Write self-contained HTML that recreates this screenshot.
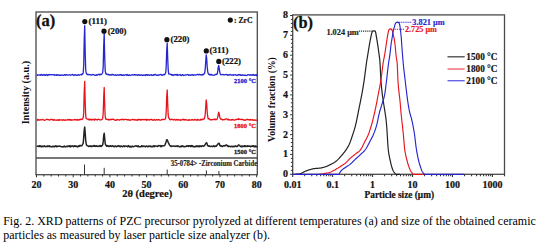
<!DOCTYPE html>
<html><head><meta charset="utf-8"><style>
html,body{margin:0;padding:0;background:#fff;width:541px;height:248px;overflow:hidden;position:relative;}
svg{position:absolute;left:0;top:0;}
.cap{position:absolute;left:3.5px;font-family:'Liberation Serif',serif;font-size:12px;color:#111;white-space:nowrap;}
</style></head><body>
<svg width="541" height="248" viewBox="0 0 541 248">
<rect x="36.0" y="12.0" width="221.3" height="162.7" fill="none" stroke="#4a4a4a" stroke-width="1.3"/>
<line x1="36.0" y1="158.0" x2="257.3" y2="158.0" stroke="#4a4a4a" stroke-width="1.3"/>
<line x1="36.50" y1="174.7" x2="36.50" y2="177.29999999999998" stroke="#333" stroke-width="1"/>
<line x1="43.84" y1="174.7" x2="43.84" y2="176.5" stroke="#333" stroke-width="1"/>
<line x1="51.18" y1="174.7" x2="51.18" y2="176.5" stroke="#333" stroke-width="1"/>
<line x1="58.52" y1="174.7" x2="58.52" y2="176.5" stroke="#333" stroke-width="1"/>
<line x1="65.86" y1="174.7" x2="65.86" y2="176.5" stroke="#333" stroke-width="1"/>
<line x1="73.20" y1="174.7" x2="73.20" y2="177.29999999999998" stroke="#333" stroke-width="1"/>
<line x1="80.54" y1="174.7" x2="80.54" y2="176.5" stroke="#333" stroke-width="1"/>
<line x1="87.88" y1="174.7" x2="87.88" y2="176.5" stroke="#333" stroke-width="1"/>
<line x1="95.22" y1="174.7" x2="95.22" y2="176.5" stroke="#333" stroke-width="1"/>
<line x1="102.56" y1="174.7" x2="102.56" y2="176.5" stroke="#333" stroke-width="1"/>
<line x1="109.90" y1="174.7" x2="109.90" y2="177.29999999999998" stroke="#333" stroke-width="1"/>
<line x1="117.24" y1="174.7" x2="117.24" y2="176.5" stroke="#333" stroke-width="1"/>
<line x1="124.58" y1="174.7" x2="124.58" y2="176.5" stroke="#333" stroke-width="1"/>
<line x1="131.92" y1="174.7" x2="131.92" y2="176.5" stroke="#333" stroke-width="1"/>
<line x1="139.26" y1="174.7" x2="139.26" y2="176.5" stroke="#333" stroke-width="1"/>
<line x1="146.60" y1="174.7" x2="146.60" y2="177.29999999999998" stroke="#333" stroke-width="1"/>
<line x1="153.94" y1="174.7" x2="153.94" y2="176.5" stroke="#333" stroke-width="1"/>
<line x1="161.28" y1="174.7" x2="161.28" y2="176.5" stroke="#333" stroke-width="1"/>
<line x1="168.62" y1="174.7" x2="168.62" y2="176.5" stroke="#333" stroke-width="1"/>
<line x1="175.96" y1="174.7" x2="175.96" y2="176.5" stroke="#333" stroke-width="1"/>
<line x1="183.30" y1="174.7" x2="183.30" y2="177.29999999999998" stroke="#333" stroke-width="1"/>
<line x1="190.64" y1="174.7" x2="190.64" y2="176.5" stroke="#333" stroke-width="1"/>
<line x1="197.98" y1="174.7" x2="197.98" y2="176.5" stroke="#333" stroke-width="1"/>
<line x1="205.32" y1="174.7" x2="205.32" y2="176.5" stroke="#333" stroke-width="1"/>
<line x1="212.66" y1="174.7" x2="212.66" y2="176.5" stroke="#333" stroke-width="1"/>
<line x1="220.00" y1="174.7" x2="220.00" y2="177.29999999999998" stroke="#333" stroke-width="1"/>
<line x1="227.34" y1="174.7" x2="227.34" y2="176.5" stroke="#333" stroke-width="1"/>
<line x1="234.68" y1="174.7" x2="234.68" y2="176.5" stroke="#333" stroke-width="1"/>
<line x1="242.02" y1="174.7" x2="242.02" y2="176.5" stroke="#333" stroke-width="1"/>
<line x1="249.36" y1="174.7" x2="249.36" y2="176.5" stroke="#333" stroke-width="1"/>
<line x1="256.70" y1="174.7" x2="256.70" y2="177.29999999999998" stroke="#333" stroke-width="1"/>
<line x1="84.50" y1="164.5" x2="84.50" y2="174.7" stroke="#333" stroke-width="1"/>
<line x1="104.20" y1="167.8" x2="104.20" y2="174.7" stroke="#333" stroke-width="1"/>
<line x1="167.20" y1="169.5" x2="167.20" y2="174.7" stroke="#333" stroke-width="1"/>
<line x1="206.40" y1="170.4" x2="206.40" y2="174.7" stroke="#333" stroke-width="1"/>
<line x1="218.90" y1="171.0" x2="218.90" y2="174.7" stroke="#333" stroke-width="1"/>
<polyline points="36.70,74.62 37.20,75.30 37.70,75.31 38.20,74.79 38.70,74.96 39.20,74.94 39.70,75.14 40.20,75.31 40.70,74.63 41.20,74.46 41.70,75.26 42.20,74.97 42.70,75.26 43.20,74.53 43.70,74.87 44.20,75.20 44.70,74.75 45.20,75.41 45.70,75.47 46.20,74.59 46.70,74.45 47.20,74.96 47.70,75.44 48.20,74.94 48.70,74.70 49.20,74.87 49.70,74.50 50.20,74.64 50.70,74.88 51.20,74.97 51.70,74.72 52.20,74.68 52.70,74.66 53.20,74.90 53.70,74.76 54.20,74.47 54.70,75.26 55.20,75.09 55.70,75.15 56.20,74.70 56.70,75.45 57.20,75.43 57.70,74.67 58.20,74.77 58.70,75.18 59.20,75.23 59.70,75.47 60.20,74.98 60.70,75.32 61.20,75.21 61.70,74.82 62.20,75.05 62.70,75.39 63.20,75.40 63.70,75.05 64.20,75.09 64.70,74.53 65.20,74.65 65.70,75.24 66.20,74.93 66.70,74.64 67.20,74.98 67.70,75.19 68.20,75.19 68.70,74.88 69.20,74.90 69.70,74.97 70.20,75.26 70.70,75.04 71.20,74.87 71.70,74.94 72.20,74.48 72.70,74.42 73.20,75.09 73.70,75.47 74.20,75.12 74.70,74.86 75.20,74.59 75.70,74.89 76.20,75.41 76.70,75.27 77.20,75.00 77.70,75.28 78.20,74.67 78.70,74.84 79.20,75.29 79.70,74.95 80.20,74.74 80.70,74.46 81.20,74.61 81.70,74.93 82.20,73.79 82.70,74.02 83.20,72.90 83.70,65.70 84.20,40.55 84.70,25.65 85.20,52.43 85.70,69.77 86.20,73.20 86.70,73.54 87.20,74.64 87.70,74.64 88.20,74.35 88.70,74.67 89.20,74.74 89.70,74.66 90.20,74.65 90.70,74.87 91.20,75.00 91.70,75.02 92.20,74.87 92.70,74.41 93.20,74.56 93.70,74.53 94.20,74.94 94.70,75.28 95.20,75.27 95.70,75.26 96.20,75.28 96.70,74.70 97.20,75.21 97.70,75.10 98.20,74.47 98.70,74.29 99.20,74.24 99.70,74.96 100.20,74.50 100.70,74.23 101.20,74.61 101.70,74.20 102.20,73.54 102.70,72.55 103.20,66.93 103.70,46.02 104.20,33.77 104.70,56.52 105.20,70.61 105.70,73.39 106.20,74.12 106.70,73.95 107.20,74.41 107.70,74.59 108.20,74.43 108.70,74.36 109.20,75.19 109.70,74.93 110.20,74.60 110.70,74.97 111.20,75.25 111.70,74.49 112.20,74.38 112.70,74.50 113.20,75.10 113.70,74.63 114.20,75.12 114.70,75.16 115.20,75.04 115.70,74.69 116.20,75.41 116.70,75.34 117.20,75.04 117.70,74.70 118.20,75.08 118.70,74.88 119.20,75.04 119.70,74.81 120.20,75.09 120.70,74.55 121.20,74.71 121.70,75.42 122.20,75.43 122.70,74.85 123.20,75.33 123.70,74.84 124.20,75.41 124.70,75.30 125.20,74.95 125.70,74.73 126.20,74.45 126.70,75.29 127.20,74.56 127.70,75.25 128.20,75.50 128.70,75.14 129.20,74.67 129.70,75.32 130.20,75.52 130.70,75.28 131.20,75.04 131.70,74.87 132.20,74.81 132.70,74.66 133.20,75.12 133.70,74.94 134.20,74.67 134.70,74.54 135.20,75.09 135.70,74.80 136.20,74.96 136.70,74.81 137.20,75.34 137.70,75.45 138.20,74.57 138.70,74.62 139.20,74.76 139.70,75.45 140.20,75.35 140.70,74.88 141.20,74.68 141.70,75.12 142.20,75.35 142.70,75.48 143.20,74.90 143.70,75.36 144.20,75.23 144.70,75.01 145.20,75.48 145.70,74.79 146.20,75.19 146.70,74.59 147.20,74.59 147.70,75.34 148.20,74.74 148.70,75.21 149.20,75.12 149.70,75.35 150.20,74.90 150.70,74.80 151.20,74.74 151.70,75.32 152.20,75.13 152.70,75.46 153.20,75.44 153.70,74.67 154.20,74.98 154.70,74.57 155.20,74.44 155.70,74.45 156.20,75.26 156.70,75.29 157.20,75.34 157.70,74.84 158.20,75.04 158.70,75.24 159.20,74.85 159.70,74.98 160.20,74.64 160.70,74.43 161.20,74.57 161.70,75.21 162.20,74.94 162.70,75.24 163.20,74.75 163.70,74.42 164.20,74.78 164.70,74.69 165.20,73.48 165.70,72.82 166.20,66.53 166.70,50.78 167.20,43.04 167.70,58.07 168.20,69.93 168.70,73.86 169.20,74.10 169.70,74.02 170.20,74.18 170.70,74.36 171.20,74.95 171.70,74.42 172.20,75.20 172.70,74.79 173.20,75.35 173.70,75.39 174.20,74.77 174.70,74.65 175.20,74.86 175.70,74.52 176.20,75.03 176.70,74.49 177.20,74.38 177.70,75.36 178.20,74.81 178.70,75.04 179.20,74.92 179.70,74.77 180.20,74.49 180.70,75.32 181.20,75.50 181.70,75.53 182.20,74.66 182.70,74.63 183.20,75.04 183.70,75.47 184.20,75.09 184.70,75.18 185.20,75.17 185.70,74.76 186.20,74.98 186.70,74.78 187.20,74.68 187.70,74.50 188.20,74.68 188.70,75.42 189.20,74.98 189.70,75.13 190.20,75.14 190.70,75.44 191.20,74.92 191.70,74.76 192.20,74.76 192.70,74.74 193.20,75.28 193.70,75.41 194.20,74.82 194.70,74.76 195.20,74.96 195.70,75.03 196.20,75.05 196.70,74.69 197.20,74.40 197.70,74.58 198.20,74.42 198.70,74.88 199.20,74.44 199.70,74.37 200.20,74.91 200.70,74.62 201.20,75.05 201.70,74.78 202.20,75.06 202.70,74.30 203.20,74.42 203.70,74.55 204.20,73.48 204.70,73.19 205.20,69.11 205.70,62.05 206.20,54.82 206.70,58.55 207.20,66.72 207.70,71.42 208.20,73.52 208.70,74.54 209.20,74.23 209.70,74.91 210.20,74.32 210.70,75.06 211.20,74.31 211.70,74.52 212.20,75.16 212.70,75.17 213.20,75.28 213.70,75.22 214.20,75.11 214.70,75.01 215.20,74.44 215.70,74.56 216.20,74.20 216.70,74.52 217.20,73.91 217.70,71.51 218.20,67.33 218.70,65.36 219.20,68.18 219.70,71.85 220.20,73.78 220.70,74.74 221.20,74.61 221.70,74.61 222.20,74.60 222.70,74.55 223.20,74.33 223.70,74.95 224.20,74.83 224.70,74.97 225.20,74.49 225.70,74.72 226.20,74.54 226.70,74.50 227.20,74.64 227.70,75.24 228.20,74.90 228.70,74.85 229.20,75.06 229.70,74.71 230.20,74.43 230.70,74.92 231.20,74.97 231.70,75.13 232.20,74.94 232.70,75.16 233.20,75.24 233.70,74.75 234.20,74.94 234.70,74.95 235.20,74.70 235.70,74.85 236.20,75.03 236.70,75.41 237.20,75.48 237.70,74.83 238.20,75.11 238.70,74.55 239.20,74.48 239.70,74.92 240.20,75.36 240.70,74.70 241.20,75.22 241.70,75.41 242.20,74.86 242.70,75.17 243.20,75.37 243.70,74.92 244.20,75.19 244.70,75.26 245.20,75.13 245.70,75.38 246.20,75.45 246.70,75.53 247.20,75.15 247.70,74.69 248.20,74.69 248.70,74.66 249.20,75.01 249.70,75.26 250.20,74.58 250.70,75.12 251.20,75.23 251.70,74.88 252.20,74.99 252.70,74.65 253.20,75.18 253.70,74.55 254.20,75.42 254.70,75.37 255.20,75.18 255.70,74.79 256.20,75.38 256.60,75.52 256.60,74.71 256.60,75.23" fill="none" stroke="#2626d0" stroke-width="1.3" stroke-linejoin="round"/>
<polyline points="36.70,120.26 37.20,120.32 37.70,119.42 38.20,119.32 38.70,120.07 39.20,120.08 39.70,120.01 40.20,119.63 40.70,119.88 41.20,119.92 41.70,119.90 42.20,119.46 42.70,119.68 43.20,119.67 43.70,120.00 44.20,120.33 44.70,120.34 45.20,119.92 45.70,119.76 46.20,119.55 46.70,119.29 47.20,119.24 47.70,119.68 48.20,119.59 48.70,119.64 49.20,120.17 49.70,119.88 50.20,119.87 50.70,119.54 51.20,119.27 51.70,119.54 52.20,119.39 52.70,119.74 53.20,120.30 53.70,120.05 54.20,119.51 54.70,120.15 55.20,120.15 55.70,120.09 56.20,120.25 56.70,120.13 57.20,120.14 57.70,119.70 58.20,120.27 58.70,120.34 59.20,119.53 59.70,120.01 60.20,120.04 60.70,119.79 61.20,119.82 61.70,119.79 62.20,120.22 62.70,119.86 63.20,120.14 63.70,119.69 64.20,120.16 64.70,120.25 65.20,119.82 65.70,119.86 66.20,120.23 66.70,120.08 67.20,119.82 67.70,119.51 68.20,119.56 68.70,119.95 69.20,119.47 69.70,120.15 70.20,119.60 70.70,120.17 71.20,119.64 71.70,120.22 72.20,120.05 72.70,119.82 73.20,119.79 73.70,119.92 74.20,119.88 74.70,119.58 75.20,119.43 75.70,119.71 76.20,120.18 76.70,119.93 77.20,119.33 77.70,119.99 78.20,119.98 78.70,120.15 79.20,119.43 79.70,119.86 80.20,119.20 80.70,119.66 81.20,119.28 81.70,119.08 82.20,119.55 82.70,118.53 83.20,117.89 83.70,112.70 84.20,93.01 84.70,81.46 85.20,102.82 85.70,115.72 86.20,118.69 86.70,118.59 87.20,119.08 87.70,119.06 88.20,119.64 88.70,119.17 89.20,120.02 89.70,119.23 90.20,119.84 90.70,119.22 91.20,119.38 91.70,119.98 92.20,119.41 92.70,119.35 93.20,119.87 93.70,119.63 94.20,119.25 94.70,120.16 95.20,119.44 95.70,119.21 96.20,119.49 96.70,119.80 97.20,119.97 97.70,119.35 98.20,119.47 98.70,119.17 99.20,119.53 99.70,119.88 100.20,119.87 100.70,119.98 101.20,119.77 101.70,119.71 102.20,119.29 102.70,118.22 103.20,113.21 103.70,97.43 104.20,87.46 104.70,104.71 105.20,116.25 105.70,119.04 106.20,118.83 106.70,119.40 107.20,119.39 107.70,119.57 108.20,119.25 108.70,120.07 109.20,119.49 109.70,119.78 110.20,119.64 110.70,119.22 111.20,119.72 111.70,119.37 112.20,119.24 112.70,119.20 113.20,119.33 113.70,119.28 114.20,119.83 114.70,119.79 115.20,120.27 115.70,120.29 116.20,120.36 116.70,119.59 117.20,119.69 117.70,119.51 118.20,119.83 118.70,119.91 119.20,120.11 119.70,120.04 120.20,119.57 120.70,119.67 121.20,119.79 121.70,119.28 122.20,119.24 122.70,119.61 123.20,119.36 123.70,119.95 124.20,119.55 124.70,119.34 125.20,119.40 125.70,119.46 126.20,119.45 126.70,119.76 127.20,119.75 127.70,119.59 128.20,119.90 128.70,119.51 129.20,120.16 129.70,120.32 130.20,120.10 130.70,119.77 131.20,119.80 131.70,119.87 132.20,119.35 132.70,119.64 133.20,119.79 133.70,119.47 134.20,119.33 134.70,120.03 135.20,119.69 135.70,119.79 136.20,120.22 136.70,119.97 137.20,119.60 137.70,120.26 138.20,119.73 138.70,119.29 139.20,119.90 139.70,119.40 140.20,119.53 140.70,120.10 141.20,120.01 141.70,119.33 142.20,119.67 142.70,119.68 143.20,119.76 143.70,119.49 144.20,119.83 144.70,119.36 145.20,119.50 145.70,119.61 146.20,120.20 146.70,119.42 147.20,119.99 147.70,119.50 148.20,119.82 148.70,119.68 149.20,119.73 149.70,120.03 150.20,119.71 150.70,119.38 151.20,119.33 151.70,119.28 152.20,120.06 152.70,119.96 153.20,120.27 153.70,120.04 154.20,119.33 154.70,119.87 155.20,120.07 155.70,120.04 156.20,119.80 156.70,119.62 157.20,119.69 157.70,120.05 158.20,119.55 158.70,119.74 159.20,119.71 159.70,120.18 160.20,120.09 160.70,120.20 161.20,120.10 161.70,119.52 162.20,119.34 162.70,119.54 163.20,119.29 163.70,119.36 164.20,119.52 164.70,119.61 165.20,118.95 165.70,118.00 166.20,111.86 166.70,97.27 167.20,89.95 167.70,104.00 168.20,115.22 168.70,117.85 169.20,118.48 169.70,119.58 170.20,119.95 170.70,119.73 171.20,119.22 171.70,119.35 172.20,119.33 172.70,119.80 173.20,119.89 173.70,119.67 174.20,119.74 174.70,119.33 175.20,119.72 175.70,120.20 176.20,120.07 176.70,119.39 177.20,119.72 177.70,119.97 178.20,119.54 178.70,120.13 179.20,119.78 179.70,119.98 180.20,119.70 180.70,120.26 181.20,120.13 181.70,119.90 182.20,119.43 182.70,119.66 183.20,119.28 183.70,119.80 184.20,120.17 184.70,119.51 185.20,119.74 185.70,119.75 186.20,119.67 186.70,119.97 187.20,120.25 187.70,120.05 188.20,119.79 188.70,120.25 189.20,119.67 189.70,120.01 190.20,119.97 190.70,120.06 191.20,120.17 191.70,119.55 192.20,119.85 192.70,119.68 193.20,119.92 193.70,120.27 194.20,119.97 194.70,119.29 195.20,119.64 195.70,119.95 196.20,120.16 196.70,119.95 197.20,120.08 197.70,119.28 198.20,120.10 198.70,119.99 199.20,119.84 199.70,120.11 200.20,120.11 200.70,119.29 201.20,119.87 201.70,119.87 202.20,119.24 202.70,119.62 203.20,119.41 203.70,118.80 204.20,118.99 204.70,117.36 205.20,114.52 205.70,107.18 206.20,99.81 206.70,103.77 207.20,112.01 207.70,116.48 208.20,118.87 208.70,118.59 209.20,118.65 209.70,119.25 210.20,119.78 210.70,119.72 211.20,119.84 211.70,119.61 212.20,119.79 212.70,119.48 213.20,119.36 213.70,119.59 214.20,119.13 214.70,119.10 215.20,119.76 215.70,119.22 216.20,119.65 216.70,119.59 217.20,118.70 217.70,117.34 218.20,114.35 218.70,112.18 219.20,113.72 219.70,116.79 220.20,118.58 220.70,119.22 221.20,119.24 221.70,119.01 222.20,119.57 222.70,120.10 223.20,119.57 223.70,119.67 224.20,119.51 224.70,119.48 225.20,119.76 225.70,118.98 226.20,118.95 226.70,118.79 227.20,119.10 227.70,119.80 228.20,119.20 228.70,119.94 229.20,119.54 229.70,119.85 230.20,120.06 230.70,119.95 231.20,119.67 231.70,120.09 232.20,119.39 232.70,119.84 233.20,119.66 233.70,119.77 234.20,120.12 234.70,120.11 235.20,119.93 235.70,119.57 236.20,119.42 236.70,119.57 237.20,119.26 237.70,119.07 238.20,119.51 238.70,118.66 239.20,119.46 239.70,119.35 240.20,119.46 240.70,119.49 241.20,119.27 241.70,119.64 242.20,119.40 242.70,119.65 243.20,119.54 243.70,120.14 244.20,120.26 244.70,119.79 245.20,119.93 245.70,120.24 246.20,119.68 246.70,119.36 247.20,119.46 247.70,119.42 248.20,119.92 248.70,119.68 249.20,119.63 249.70,120.07 250.20,119.56 250.70,120.07 251.20,119.97 251.70,119.72 252.20,120.11 252.70,119.68 253.20,120.16 253.70,120.28 254.20,119.87 254.70,120.00 255.20,120.28 255.70,120.11 256.20,120.10 256.60,120.22 256.60,120.30 256.60,120.13" fill="none" stroke="#e8141c" stroke-width="1.3" stroke-linejoin="round"/>
<polyline points="36.70,145.98 37.20,146.30 37.70,146.14 38.20,146.40 38.70,146.46 39.20,145.80 39.70,145.64 40.20,146.60 40.70,146.06 41.20,145.94 41.70,146.83 42.20,146.34 42.70,146.70 43.20,146.33 43.70,146.47 44.20,145.91 44.70,146.40 45.20,146.75 45.70,146.39 46.20,146.60 46.70,146.54 47.20,145.81 47.70,146.53 48.20,146.44 48.70,146.08 49.20,145.70 49.70,146.64 50.20,146.31 50.70,146.56 51.20,146.78 51.70,146.62 52.20,146.84 52.70,146.25 53.20,146.64 53.70,146.28 54.20,146.81 54.70,146.82 55.20,145.89 55.70,145.80 56.20,145.88 56.70,146.78 57.20,146.29 57.70,146.44 58.20,146.08 58.70,146.27 59.20,146.15 59.70,146.09 60.20,146.36 60.70,146.40 61.20,146.79 61.70,146.58 62.20,146.84 62.70,146.79 63.20,146.95 63.70,146.59 64.20,145.93 64.70,146.66 65.20,146.89 65.70,146.86 66.20,146.45 66.70,146.56 67.20,145.98 67.70,146.63 68.20,146.42 68.70,146.04 69.20,145.72 69.70,146.61 70.20,146.91 70.70,145.88 71.20,146.57 71.70,146.20 72.20,145.84 72.70,145.95 73.20,146.53 73.70,146.74 74.20,145.78 74.70,146.31 75.20,145.71 75.70,146.41 76.20,146.05 76.70,146.64 77.20,146.84 77.70,146.29 78.20,146.78 78.70,146.02 79.20,145.60 79.70,146.13 80.20,145.49 80.70,145.53 81.20,145.70 81.70,145.83 82.20,145.08 82.70,144.24 83.20,143.23 83.70,137.60 84.20,130.32 84.70,127.09 85.20,132.98 85.70,140.23 86.20,143.96 86.70,145.35 87.20,145.73 87.70,145.88 88.20,146.07 88.70,146.54 89.20,146.14 89.70,146.03 90.20,146.38 90.70,145.87 91.20,145.89 91.70,146.71 92.20,146.30 92.70,146.28 93.20,145.64 93.70,146.03 94.20,146.28 94.70,145.66 95.20,146.27 95.70,146.39 96.20,145.72 96.70,146.29 97.20,146.18 97.70,146.42 98.20,146.05 98.70,146.41 99.20,146.49 99.70,145.63 100.20,145.51 100.70,146.19 101.20,146.56 101.70,145.66 102.20,145.53 102.70,144.85 103.20,141.64 103.70,135.95 104.20,133.25 104.70,138.41 105.20,143.46 105.70,145.02 106.20,145.57 106.70,146.23 107.20,145.52 107.70,146.10 108.20,146.42 108.70,145.99 109.20,145.84 109.70,146.52 110.20,145.96 110.70,145.82 111.20,146.10 111.70,146.46 112.20,145.81 112.70,145.98 113.20,146.02 113.70,146.63 114.20,146.25 114.70,146.69 115.20,145.94 115.70,146.03 116.20,146.42 116.70,146.76 117.20,146.29 117.70,145.95 118.20,145.78 118.70,146.24 119.20,145.91 119.70,146.59 120.20,146.73 120.70,145.97 121.20,145.97 121.70,146.60 122.20,146.50 122.70,146.68 123.20,146.16 123.70,145.83 124.20,145.97 124.70,146.59 125.20,146.06 125.70,146.07 126.20,146.16 126.70,146.17 127.20,146.16 127.70,146.77 128.20,145.95 128.70,145.65 129.20,146.72 129.70,146.81 130.20,146.95 130.70,146.31 131.20,146.83 131.70,146.88 132.20,146.05 132.70,146.55 133.20,146.73 133.70,146.55 134.20,146.35 134.70,146.05 135.20,146.06 135.70,145.93 136.20,145.72 136.70,146.31 137.20,146.04 137.70,146.62 138.20,145.80 138.70,146.70 139.20,146.58 139.70,146.84 140.20,146.84 140.70,146.85 141.20,146.46 141.70,145.73 142.20,146.50 142.70,145.93 143.20,145.99 143.70,146.44 144.20,146.34 144.70,146.19 145.20,146.79 145.70,146.49 146.20,146.13 146.70,145.96 147.20,146.67 147.70,146.31 148.20,146.62 148.70,146.15 149.20,145.90 149.70,146.26 150.20,146.65 150.70,145.94 151.20,146.57 151.70,146.82 152.20,146.72 152.70,146.72 153.20,145.75 153.70,146.34 154.20,146.71 154.70,145.79 155.20,145.92 155.70,145.93 156.20,146.23 156.70,146.15 157.20,146.20 157.70,146.56 158.20,145.68 158.70,145.61 159.20,145.68 159.70,145.67 160.20,145.59 160.70,146.64 161.20,146.64 161.70,145.70 162.20,146.02 162.70,145.81 163.20,145.71 163.70,145.64 164.20,145.79 164.70,145.38 165.20,144.37 165.70,142.95 166.20,141.51 166.70,139.80 167.20,139.82 167.70,141.07 168.20,142.32 168.70,143.35 169.20,144.40 169.70,145.22 170.20,145.84 170.70,146.26 171.20,145.91 171.70,146.40 172.20,146.30 172.70,146.08 173.20,146.00 173.70,146.15 174.20,146.43 174.70,146.14 175.20,146.44 175.70,146.21 176.20,145.93 176.70,146.23 177.20,146.47 177.70,145.77 178.20,146.09 178.70,146.14 179.20,146.69 179.70,146.85 180.20,146.20 180.70,146.73 181.20,146.68 181.70,146.05 182.20,146.19 182.70,145.81 183.20,146.58 183.70,146.51 184.20,146.77 184.70,146.70 185.20,146.54 185.70,146.59 186.20,146.40 186.70,145.82 187.20,146.31 187.70,145.69 188.20,145.77 188.70,146.53 189.20,145.77 189.70,145.72 190.20,145.72 190.70,146.65 191.20,145.95 191.70,145.66 192.20,146.59 192.70,145.87 193.20,146.63 193.70,146.53 194.20,146.71 194.70,146.88 195.20,146.46 195.70,146.65 196.20,145.77 196.70,146.51 197.20,146.31 197.70,146.53 198.20,145.83 198.70,146.49 199.20,146.80 199.70,145.80 200.20,145.96 200.70,146.26 201.20,146.61 201.70,145.95 202.20,145.76 202.70,145.78 203.20,146.18 203.70,146.32 204.20,145.72 204.70,145.21 205.20,144.49 205.70,143.47 206.20,142.88 206.70,142.80 207.20,144.18 207.70,145.66 208.20,145.63 208.70,146.22 209.20,145.69 209.70,146.29 210.20,146.48 210.70,146.43 211.20,146.24 211.70,146.18 212.20,146.37 212.70,146.70 213.20,145.85 213.70,145.66 214.20,146.40 214.70,146.69 215.20,146.24 215.70,146.04 216.20,146.25 216.70,145.45 217.20,145.04 217.70,144.26 218.20,143.86 218.70,143.16 219.20,143.47 219.70,144.84 220.20,145.93 220.70,145.63 221.20,146.21 221.70,146.02 222.20,146.54 222.70,146.32 223.20,145.91 223.70,145.79 224.20,145.52 224.70,145.95 225.20,145.75 225.70,145.22 226.20,145.10 226.70,145.05 227.20,145.86 227.70,145.50 228.20,146.60 228.70,146.22 229.20,146.34 229.70,146.21 230.20,146.64 230.70,146.69 231.20,146.39 231.70,146.25 232.20,146.52 232.70,146.72 233.20,146.21 233.70,146.53 234.20,146.84 234.70,146.30 235.20,145.93 235.70,145.87 236.20,146.41 236.70,146.38 237.20,146.57 237.70,146.23 238.20,145.18 238.70,144.89 239.20,145.18 239.70,145.42 240.20,146.25 240.70,146.63 241.20,146.77 241.70,146.03 242.20,146.66 242.70,146.10 243.20,146.15 243.70,146.53 244.20,145.82 244.70,145.73 245.20,146.60 245.70,146.08 246.20,146.08 246.70,146.35 247.20,146.51 247.70,145.73 248.20,146.01 248.70,146.17 249.20,146.26 249.70,145.94 250.20,146.34 250.70,146.84 251.20,146.24 251.70,146.34 252.20,145.85 252.70,145.96 253.20,146.44 253.70,145.85 254.20,146.69 254.70,146.84 255.20,145.90 255.70,146.76 256.20,146.21 256.60,146.61 256.60,146.65 256.60,146.10" fill="none" stroke="#222222" stroke-width="1.5" stroke-linejoin="round"/>
<circle cx="84.8" cy="21.6" r="2.6" fill="#111"/>
<text x="88.6" y="23.900000000000002" font-family="'Liberation Serif', serif" font-size="8.4" font-weight="bold" fill="#111" text-anchor="start" textLength="18.400000000000006" lengthAdjust="spacingAndGlyphs" stroke="#111" stroke-width="0.2">(111)</text>
<circle cx="104.0" cy="31.2" r="2.6" fill="#111"/>
<text x="107.7" y="33.5" font-family="'Liberation Serif', serif" font-size="8.4" font-weight="bold" fill="#111" text-anchor="start" textLength="18.799999999999997" lengthAdjust="spacingAndGlyphs" stroke="#111" stroke-width="0.2">(200)</text>
<circle cx="166.9" cy="39.7" r="2.6" fill="#111"/>
<text x="170.5" y="42.0" font-family="'Liberation Serif', serif" font-size="8.4" font-weight="bold" fill="#111" text-anchor="start" textLength="19.0" lengthAdjust="spacingAndGlyphs" stroke="#111" stroke-width="0.2">(220)</text>
<circle cx="206.3" cy="50.9" r="2.6" fill="#111"/>
<text x="209.5" y="53.199999999999996" font-family="'Liberation Serif', serif" font-size="8.4" font-weight="bold" fill="#111" text-anchor="start" textLength="19.0" lengthAdjust="spacingAndGlyphs" stroke="#111" stroke-width="0.2">(311)</text>
<circle cx="218.8" cy="61.4" r="2.6" fill="#111"/>
<text x="222.0" y="63.699999999999996" font-family="'Liberation Serif', serif" font-size="8.4" font-weight="bold" fill="#111" text-anchor="start" textLength="19.0" lengthAdjust="spacingAndGlyphs" stroke="#111" stroke-width="0.2">(222)</text>
<circle cx="230.3" cy="20.1" r="2.6" fill="#111"/>
<text x="234.0" y="22.8" font-family="'Liberation Serif', serif" font-size="8.2" font-weight="bold" fill="#111" text-anchor="start" textLength="18.6" lengthAdjust="spacingAndGlyphs" stroke="#111" stroke-width="0.2">: ZrC</text>
<text x="36.0" y="25.8" font-family="'Liberation Serif', serif" font-size="17" font-weight="bold" fill="#111" text-anchor="start" textLength="19.2" lengthAdjust="spacingAndGlyphs" stroke="#111" stroke-width="0.3">(a)</text>
<text x="234.0" y="82.7" font-family="'Liberation Serif', serif" font-size="7.1" font-weight="bold" fill="#2626d0" text-anchor="start" textLength="22.0" lengthAdjust="spacingAndGlyphs" stroke="#2626d0" stroke-width="0.3">2100 °C</text>
<text x="234.0" y="127.9" font-family="'Liberation Serif', serif" font-size="7.1" font-weight="bold" fill="#e8141c" text-anchor="start" textLength="22.0" lengthAdjust="spacingAndGlyphs" stroke="#e8141c" stroke-width="0.3">1800 °C</text>
<text x="234.1" y="154.2" font-family="'Liberation Serif', serif" font-size="7.1" font-weight="bold" fill="#222222" text-anchor="start" textLength="21.8" lengthAdjust="spacingAndGlyphs" stroke="#222222" stroke-width="0.3">1500 °C</text>
<text x="170.8" y="165.6" font-family="'Liberation Serif', serif" font-size="7.2" font-weight="bold" fill="#222" text-anchor="start" textLength="86.4" lengthAdjust="spacingAndGlyphs" stroke="#222" stroke-width="0.15">35-0784&gt; -Zirconium Carbide</text>
<text x="36.50" y="187.6" font-family="'Liberation Serif', serif" font-size="10" font-weight="bold" fill="#111" text-anchor="middle" stroke="#111" stroke-width="0.2">20</text>
<text x="73.20" y="187.6" font-family="'Liberation Serif', serif" font-size="10" font-weight="bold" fill="#111" text-anchor="middle" stroke="#111" stroke-width="0.2">30</text>
<text x="109.90" y="187.6" font-family="'Liberation Serif', serif" font-size="10" font-weight="bold" fill="#111" text-anchor="middle" stroke="#111" stroke-width="0.2">40</text>
<text x="146.60" y="187.6" font-family="'Liberation Serif', serif" font-size="10" font-weight="bold" fill="#111" text-anchor="middle" stroke="#111" stroke-width="0.2">50</text>
<text x="183.30" y="187.6" font-family="'Liberation Serif', serif" font-size="10" font-weight="bold" fill="#111" text-anchor="middle" stroke="#111" stroke-width="0.2">60</text>
<text x="220.00" y="187.6" font-family="'Liberation Serif', serif" font-size="10" font-weight="bold" fill="#111" text-anchor="middle" stroke="#111" stroke-width="0.2">70</text>
<text x="256.70" y="187.6" font-family="'Liberation Serif', serif" font-size="10" font-weight="bold" fill="#111" text-anchor="middle" stroke="#111" stroke-width="0.2">80</text>
<text x="147.2" y="197.2" font-family="'Liberation Serif', serif" font-size="10.8" font-weight="bold" fill="#111" text-anchor="middle" textLength="50" lengthAdjust="spacingAndGlyphs" stroke="#111" stroke-width="0.2">2θ (degree)</text>
<text transform="translate(29.2,92.6) rotate(-90)" x="0" y="0" font-family="'Liberation Serif', serif" font-size="9.8" font-weight="bold" fill="#111" text-anchor="middle" textLength="63.5" lengthAdjust="spacingAndGlyphs">Intensity (a.u.)</text>
<rect x="292.7" y="14.9" width="211.8" height="159.4" fill="none" stroke="#4a4a4a" stroke-width="1.3"/>
<line x1="290.10" y1="174.30" x2="292.7" y2="174.30" stroke="#333" stroke-width="1"/>
<line x1="290.90" y1="170.33" x2="292.7" y2="170.33" stroke="#333" stroke-width="1"/>
<line x1="290.90" y1="166.36" x2="292.7" y2="166.36" stroke="#333" stroke-width="1"/>
<line x1="290.90" y1="162.39" x2="292.7" y2="162.39" stroke="#333" stroke-width="1"/>
<line x1="290.90" y1="158.42" x2="292.7" y2="158.42" stroke="#333" stroke-width="1"/>
<line x1="290.10" y1="154.45" x2="292.7" y2="154.45" stroke="#333" stroke-width="1"/>
<line x1="290.90" y1="150.48" x2="292.7" y2="150.48" stroke="#333" stroke-width="1"/>
<line x1="290.90" y1="146.51" x2="292.7" y2="146.51" stroke="#333" stroke-width="1"/>
<line x1="290.90" y1="142.54" x2="292.7" y2="142.54" stroke="#333" stroke-width="1"/>
<line x1="290.90" y1="138.57" x2="292.7" y2="138.57" stroke="#333" stroke-width="1"/>
<line x1="290.10" y1="134.60" x2="292.7" y2="134.60" stroke="#333" stroke-width="1"/>
<line x1="290.90" y1="130.63" x2="292.7" y2="130.63" stroke="#333" stroke-width="1"/>
<line x1="290.90" y1="126.66" x2="292.7" y2="126.66" stroke="#333" stroke-width="1"/>
<line x1="290.90" y1="122.69" x2="292.7" y2="122.69" stroke="#333" stroke-width="1"/>
<line x1="290.90" y1="118.72" x2="292.7" y2="118.72" stroke="#333" stroke-width="1"/>
<line x1="290.10" y1="114.75" x2="292.7" y2="114.75" stroke="#333" stroke-width="1"/>
<line x1="290.90" y1="110.78" x2="292.7" y2="110.78" stroke="#333" stroke-width="1"/>
<line x1="290.90" y1="106.81" x2="292.7" y2="106.81" stroke="#333" stroke-width="1"/>
<line x1="290.90" y1="102.84" x2="292.7" y2="102.84" stroke="#333" stroke-width="1"/>
<line x1="290.90" y1="98.87" x2="292.7" y2="98.87" stroke="#333" stroke-width="1"/>
<line x1="290.10" y1="94.90" x2="292.7" y2="94.90" stroke="#333" stroke-width="1"/>
<line x1="290.90" y1="90.93" x2="292.7" y2="90.93" stroke="#333" stroke-width="1"/>
<line x1="290.90" y1="86.96" x2="292.7" y2="86.96" stroke="#333" stroke-width="1"/>
<line x1="290.90" y1="82.99" x2="292.7" y2="82.99" stroke="#333" stroke-width="1"/>
<line x1="290.90" y1="79.02" x2="292.7" y2="79.02" stroke="#333" stroke-width="1"/>
<line x1="290.10" y1="75.05" x2="292.7" y2="75.05" stroke="#333" stroke-width="1"/>
<line x1="290.90" y1="71.08" x2="292.7" y2="71.08" stroke="#333" stroke-width="1"/>
<line x1="290.90" y1="67.11" x2="292.7" y2="67.11" stroke="#333" stroke-width="1"/>
<line x1="290.90" y1="63.14" x2="292.7" y2="63.14" stroke="#333" stroke-width="1"/>
<line x1="290.90" y1="59.17" x2="292.7" y2="59.17" stroke="#333" stroke-width="1"/>
<line x1="290.10" y1="55.20" x2="292.7" y2="55.20" stroke="#333" stroke-width="1"/>
<line x1="290.90" y1="51.23" x2="292.7" y2="51.23" stroke="#333" stroke-width="1"/>
<line x1="290.90" y1="47.26" x2="292.7" y2="47.26" stroke="#333" stroke-width="1"/>
<line x1="290.90" y1="43.29" x2="292.7" y2="43.29" stroke="#333" stroke-width="1"/>
<line x1="290.90" y1="39.32" x2="292.7" y2="39.32" stroke="#333" stroke-width="1"/>
<line x1="290.10" y1="35.35" x2="292.7" y2="35.35" stroke="#333" stroke-width="1"/>
<line x1="290.90" y1="31.38" x2="292.7" y2="31.38" stroke="#333" stroke-width="1"/>
<line x1="290.90" y1="27.41" x2="292.7" y2="27.41" stroke="#333" stroke-width="1"/>
<line x1="290.90" y1="23.44" x2="292.7" y2="23.44" stroke="#333" stroke-width="1"/>
<line x1="290.90" y1="19.47" x2="292.7" y2="19.47" stroke="#333" stroke-width="1"/>
<line x1="290.10" y1="15.50" x2="292.7" y2="15.50" stroke="#333" stroke-width="1"/>
<line x1="292.70" y1="174.3" x2="292.70" y2="177.10000000000002" stroke="#333" stroke-width="1.05"/>
<line x1="304.73" y1="174.3" x2="304.73" y2="176.3" stroke="#333" stroke-width="1.05"/>
<line x1="311.76" y1="174.3" x2="311.76" y2="176.3" stroke="#333" stroke-width="1.05"/>
<line x1="316.75" y1="174.3" x2="316.75" y2="176.3" stroke="#333" stroke-width="1.05"/>
<line x1="320.62" y1="174.3" x2="320.62" y2="176.3" stroke="#333" stroke-width="1.05"/>
<line x1="323.79" y1="174.3" x2="323.79" y2="176.3" stroke="#333" stroke-width="1.05"/>
<line x1="326.46" y1="174.3" x2="326.46" y2="176.3" stroke="#333" stroke-width="1.05"/>
<line x1="328.78" y1="174.3" x2="328.78" y2="176.3" stroke="#333" stroke-width="1.05"/>
<line x1="330.82" y1="174.3" x2="330.82" y2="176.3" stroke="#333" stroke-width="1.05"/>
<line x1="332.65" y1="174.3" x2="332.65" y2="177.10000000000002" stroke="#333" stroke-width="1.05"/>
<line x1="344.68" y1="174.3" x2="344.68" y2="176.3" stroke="#333" stroke-width="1.05"/>
<line x1="351.71" y1="174.3" x2="351.71" y2="176.3" stroke="#333" stroke-width="1.05"/>
<line x1="356.70" y1="174.3" x2="356.70" y2="176.3" stroke="#333" stroke-width="1.05"/>
<line x1="360.57" y1="174.3" x2="360.57" y2="176.3" stroke="#333" stroke-width="1.05"/>
<line x1="363.74" y1="174.3" x2="363.74" y2="176.3" stroke="#333" stroke-width="1.05"/>
<line x1="366.41" y1="174.3" x2="366.41" y2="176.3" stroke="#333" stroke-width="1.05"/>
<line x1="368.73" y1="174.3" x2="368.73" y2="176.3" stroke="#333" stroke-width="1.05"/>
<line x1="370.77" y1="174.3" x2="370.77" y2="176.3" stroke="#333" stroke-width="1.05"/>
<line x1="372.60" y1="174.3" x2="372.60" y2="177.10000000000002" stroke="#333" stroke-width="1.05"/>
<line x1="384.63" y1="174.3" x2="384.63" y2="176.3" stroke="#333" stroke-width="1.05"/>
<line x1="391.66" y1="174.3" x2="391.66" y2="176.3" stroke="#333" stroke-width="1.05"/>
<line x1="396.65" y1="174.3" x2="396.65" y2="176.3" stroke="#333" stroke-width="1.05"/>
<line x1="400.52" y1="174.3" x2="400.52" y2="176.3" stroke="#333" stroke-width="1.05"/>
<line x1="403.69" y1="174.3" x2="403.69" y2="176.3" stroke="#333" stroke-width="1.05"/>
<line x1="406.36" y1="174.3" x2="406.36" y2="176.3" stroke="#333" stroke-width="1.05"/>
<line x1="408.68" y1="174.3" x2="408.68" y2="176.3" stroke="#333" stroke-width="1.05"/>
<line x1="410.72" y1="174.3" x2="410.72" y2="176.3" stroke="#333" stroke-width="1.05"/>
<line x1="412.55" y1="174.3" x2="412.55" y2="177.10000000000002" stroke="#333" stroke-width="1.05"/>
<line x1="424.58" y1="174.3" x2="424.58" y2="176.3" stroke="#333" stroke-width="1.05"/>
<line x1="431.61" y1="174.3" x2="431.61" y2="176.3" stroke="#333" stroke-width="1.05"/>
<line x1="436.60" y1="174.3" x2="436.60" y2="176.3" stroke="#333" stroke-width="1.05"/>
<line x1="440.47" y1="174.3" x2="440.47" y2="176.3" stroke="#333" stroke-width="1.05"/>
<line x1="443.64" y1="174.3" x2="443.64" y2="176.3" stroke="#333" stroke-width="1.05"/>
<line x1="446.31" y1="174.3" x2="446.31" y2="176.3" stroke="#333" stroke-width="1.05"/>
<line x1="448.63" y1="174.3" x2="448.63" y2="176.3" stroke="#333" stroke-width="1.05"/>
<line x1="450.67" y1="174.3" x2="450.67" y2="176.3" stroke="#333" stroke-width="1.05"/>
<line x1="452.50" y1="174.3" x2="452.50" y2="177.10000000000002" stroke="#333" stroke-width="1.05"/>
<line x1="464.53" y1="174.3" x2="464.53" y2="176.3" stroke="#333" stroke-width="1.05"/>
<line x1="471.56" y1="174.3" x2="471.56" y2="176.3" stroke="#333" stroke-width="1.05"/>
<line x1="476.55" y1="174.3" x2="476.55" y2="176.3" stroke="#333" stroke-width="1.05"/>
<line x1="480.42" y1="174.3" x2="480.42" y2="176.3" stroke="#333" stroke-width="1.05"/>
<line x1="483.59" y1="174.3" x2="483.59" y2="176.3" stroke="#333" stroke-width="1.05"/>
<line x1="486.26" y1="174.3" x2="486.26" y2="176.3" stroke="#333" stroke-width="1.05"/>
<line x1="488.58" y1="174.3" x2="488.58" y2="176.3" stroke="#333" stroke-width="1.05"/>
<line x1="490.62" y1="174.3" x2="490.62" y2="176.3" stroke="#333" stroke-width="1.05"/>
<line x1="492.45" y1="174.3" x2="492.45" y2="177.10000000000002" stroke="#333" stroke-width="1.05"/>
<line x1="504.48" y1="174.3" x2="504.48" y2="176.3" stroke="#333" stroke-width="1.05"/>
<text x="285.5" y="177.20" font-family="'Liberation Serif', serif" font-size="10" font-weight="bold" fill="#111" text-anchor="middle" stroke="#111" stroke-width="0.2">0</text>
<text x="285.5" y="157.35" font-family="'Liberation Serif', serif" font-size="10" font-weight="bold" fill="#111" text-anchor="middle" stroke="#111" stroke-width="0.2">1</text>
<text x="285.5" y="137.50" font-family="'Liberation Serif', serif" font-size="10" font-weight="bold" fill="#111" text-anchor="middle" stroke="#111" stroke-width="0.2">2</text>
<text x="285.5" y="117.65" font-family="'Liberation Serif', serif" font-size="10" font-weight="bold" fill="#111" text-anchor="middle" stroke="#111" stroke-width="0.2">3</text>
<text x="285.5" y="97.80" font-family="'Liberation Serif', serif" font-size="10" font-weight="bold" fill="#111" text-anchor="middle" stroke="#111" stroke-width="0.2">4</text>
<text x="285.5" y="77.95" font-family="'Liberation Serif', serif" font-size="10" font-weight="bold" fill="#111" text-anchor="middle" stroke="#111" stroke-width="0.2">5</text>
<text x="285.5" y="58.10" font-family="'Liberation Serif', serif" font-size="10" font-weight="bold" fill="#111" text-anchor="middle" stroke="#111" stroke-width="0.2">6</text>
<text x="285.5" y="38.25" font-family="'Liberation Serif', serif" font-size="10" font-weight="bold" fill="#111" text-anchor="middle" stroke="#111" stroke-width="0.2">7</text>
<text x="285.5" y="18.40" font-family="'Liberation Serif', serif" font-size="10" font-weight="bold" fill="#111" text-anchor="middle" stroke="#111" stroke-width="0.2">8</text>
<text x="292.70" y="187.6" font-family="'Liberation Serif', serif" font-size="10" font-weight="bold" fill="#111" text-anchor="middle" stroke="#111" stroke-width="0.2">0.01</text>
<text x="332.65" y="187.6" font-family="'Liberation Serif', serif" font-size="10" font-weight="bold" fill="#111" text-anchor="middle" stroke="#111" stroke-width="0.2">0.1</text>
<text x="372.60" y="187.6" font-family="'Liberation Serif', serif" font-size="10" font-weight="bold" fill="#111" text-anchor="middle" stroke="#111" stroke-width="0.2">1</text>
<text x="412.55" y="187.6" font-family="'Liberation Serif', serif" font-size="10" font-weight="bold" fill="#111" text-anchor="middle" stroke="#111" stroke-width="0.2">10</text>
<text x="452.50" y="187.6" font-family="'Liberation Serif', serif" font-size="10" font-weight="bold" fill="#111" text-anchor="middle" stroke="#111" stroke-width="0.2">100</text>
<text x="492.45" y="187.6" font-family="'Liberation Serif', serif" font-size="10" font-weight="bold" fill="#111" text-anchor="middle" stroke="#111" stroke-width="0.2">1000</text>
<text x="399.3" y="197.6" font-family="'Liberation Serif', serif" font-size="9.3" font-weight="bold" fill="#111" text-anchor="middle" textLength="69.4" lengthAdjust="spacingAndGlyphs" stroke="#111" stroke-width="0.2">Particle size (μm)</text>
<text transform="translate(275.0,99.6) rotate(-90)" x="0" y="0" font-family="'Liberation Serif', serif" font-size="9.7" font-weight="bold" fill="#111" text-anchor="middle" textLength="84.6" lengthAdjust="spacingAndGlyphs">Volume fraction (%)</text>
<text x="293.0" y="27.6" font-family="'Liberation Serif', serif" font-size="17" font-weight="bold" fill="#111" text-anchor="start" textLength="20.0" lengthAdjust="spacingAndGlyphs" stroke="#111" stroke-width="0.3">(b)</text>
<path d="M295.00,174.30 L295.37,174.27 L295.73,174.24 L296.10,174.21 L296.47,174.18 L296.83,174.16 L297.20,174.13 L297.57,174.10 L297.93,174.07 L298.30,174.03 L298.67,173.99 L299.03,173.95 L299.40,173.90 L299.76,173.84 L300.12,173.75 L300.48,173.64 L300.84,173.51 L301.20,173.37 L301.56,173.21 L301.92,173.03 L302.28,172.85 L302.64,172.66 L303.00,172.47 L303.36,172.27 L303.72,172.07 L304.08,171.87 L304.44,171.67 L304.80,171.49 L305.16,171.30 L305.52,171.13 L305.88,170.97 L306.24,170.83 L306.60,170.70 L306.95,170.58 L307.31,170.47 L307.66,170.35 L308.02,170.24 L308.37,170.12 L308.73,170.01 L309.08,169.90 L309.43,169.79 L309.79,169.68 L310.14,169.58 L310.50,169.48 L310.85,169.38 L311.20,169.28 L311.56,169.19 L311.91,169.10 L312.27,169.01 L312.62,168.93 L312.98,168.85 L313.33,168.78 L313.68,168.71 L314.04,168.65 L314.39,168.60 L314.75,168.55 L315.10,168.50 L315.48,168.46 L315.85,168.42 L316.23,168.39 L316.61,168.36 L316.98,168.34 L317.36,168.31 L317.74,168.29 L318.12,168.27 L318.49,168.24 L318.87,168.21 L319.25,168.18 L319.62,168.14 L320.00,168.10 L320.36,168.05 L320.73,168.00 L321.09,167.93 L321.46,167.86 L321.82,167.79 L322.19,167.70 L322.55,167.62 L322.91,167.52 L323.28,167.43 L323.64,167.33 L324.01,167.22 L324.37,167.12 L324.74,167.01 L325.10,166.90 L325.46,166.78 L325.83,166.66 L326.19,166.53 L326.56,166.38 L326.92,166.23 L327.29,166.08 L327.65,165.92 L328.01,165.75 L328.38,165.58 L328.74,165.41 L329.11,165.23 L329.47,165.06 L329.84,164.88 L330.20,164.70 L330.56,164.52 L330.93,164.34 L331.29,164.16 L331.66,163.97 L332.02,163.78 L332.39,163.59 L332.75,163.39 L333.11,163.19 L333.48,162.98 L333.84,162.76 L334.21,162.54 L334.57,162.30 L334.94,162.06 L335.30,161.80 L335.66,161.54 L336.01,161.26 L336.37,160.96 L336.73,160.66 L337.08,160.34 L337.44,160.01 L337.79,159.66 L338.15,159.31 L338.51,158.94 L338.86,158.57 L339.22,158.19 L339.57,157.80 L339.93,157.41 L340.29,157.01 L340.64,156.61 L341.00,156.20 L341.36,155.79 L341.72,155.37 L342.08,154.95 L342.44,154.53 L342.80,154.10 L343.15,153.67 L343.51,153.23 L343.87,152.78 L344.23,152.32 L344.59,151.85 L344.95,151.37 L345.31,150.88 L345.67,150.37 L346.03,149.85 L346.39,149.31 L346.75,148.76 L347.10,148.18 L347.46,147.59 L347.82,146.97 L348.18,146.34 L348.54,145.68 L348.90,145.00 L349.28,144.22 L349.66,143.35 L350.04,142.41 L350.42,141.40 L350.80,140.34 L351.18,139.25 L351.56,138.12 L351.94,136.98 L352.32,135.84 L352.70,134.70 L353.06,133.64 L353.41,132.57 L353.77,131.47 L354.13,130.34 L354.49,129.16 L354.84,127.92 L355.20,126.60 L355.57,125.12 L355.95,123.54 L356.32,121.86 L356.69,120.10 L357.06,118.29 L357.44,116.43 L357.81,114.53 L358.18,112.63 L358.55,110.73 L358.93,108.85 L359.30,107.00 L359.70,105.05 L360.10,103.11 L360.50,101.15 L360.90,99.16 L361.30,97.12 L361.70,95.00 L362.08,92.91 L362.47,90.78 L362.85,88.59 L363.23,86.32 L363.62,83.96 L364.00,81.50 L364.37,78.93 L364.74,76.15 L365.11,73.24 L365.49,70.30 L365.86,67.38 L366.23,64.59 L366.60,62.00 L367.00,59.47 L367.40,57.10 L367.80,54.70 L368.27,51.77 L368.73,48.82 L369.20,46.00 L369.60,43.68 L370.00,41.41 L370.40,39.28 L370.80,37.40 L371.23,35.46 L371.65,33.54 L372.07,32.03 L372.50,31.30 L372.97,31.09 L373.43,30.95 L373.90,30.90 L374.25,30.93 L374.60,31.00 L374.95,31.13 L375.30,31.30 L375.70,32.49 L376.10,34.88 L376.50,37.40 L376.97,40.09 L377.43,42.96 L377.90,46.00 L378.30,48.78 L378.70,51.72 L379.10,54.70 L379.80,60.00 L380.20,66.28 L380.60,74.59 L381.00,81.50 L381.47,86.79 L381.93,91.15 L382.40,95.00 L382.76,97.71 L383.12,100.17 L383.48,102.48 L383.84,104.75 L384.20,107.10 L384.56,109.44 L384.92,111.69 L385.28,113.98 L385.64,116.45 L386.00,119.20 L386.60,125.00 L387.03,130.96 L387.45,138.18 L387.88,145.06 L388.30,150.00 L388.66,152.63 L389.02,154.80 L389.38,156.66 L389.74,158.34 L390.10,160.00 L390.53,161.98 L390.95,163.86 L391.38,165.55 L391.80,167.00 L392.22,168.25 L392.64,169.42 L393.06,170.46 L393.48,171.33 L393.90,172.00 L394.27,172.49 L394.64,172.95 L395.01,173.38 L395.39,173.75 L395.76,174.04 L396.13,174.23 L396.50,174.30 L396.85,174.30 L397.20,174.30 L397.55,174.30 L397.90,174.30 L398.25,174.30 L398.60,174.30 L398.95,174.30 L399.30,174.30 L399.65,174.30 L400.00,174.30" fill="none" stroke="#222222" stroke-width="1.2"/>
<path d="M318.70,174.30 L319.07,174.28 L319.43,174.26 L319.80,174.24 L320.17,174.23 L320.53,174.21 L320.90,174.19 L321.27,174.16 L321.63,174.13 L322.00,174.10 L322.37,174.04 L322.73,173.94 L323.10,173.83 L323.47,173.71 L323.83,173.59 L324.20,173.50 L324.56,173.43 L324.92,173.37 L325.27,173.31 L325.63,173.26 L325.99,173.21 L326.35,173.16 L326.71,173.11 L327.07,173.06 L327.43,173.01 L327.78,172.95 L328.14,172.88 L328.50,172.80 L328.88,172.70 L329.26,172.59 L329.65,172.46 L330.03,172.31 L330.41,172.16 L330.79,172.00 L331.17,171.82 L331.55,171.65 L331.94,171.47 L332.32,171.28 L332.70,171.10 L333.06,170.92 L333.42,170.74 L333.77,170.54 L334.13,170.34 L334.49,170.13 L334.85,169.92 L335.21,169.70 L335.57,169.48 L335.93,169.26 L336.28,169.04 L336.64,168.82 L337.00,168.60 L337.38,168.37 L337.76,168.14 L338.15,167.91 L338.53,167.67 L338.91,167.44 L339.29,167.20 L339.67,166.96 L340.05,166.73 L340.44,166.48 L340.82,166.24 L341.20,166.00 L341.58,165.76 L341.96,165.53 L342.34,165.29 L342.72,165.06 L343.10,164.82 L343.48,164.58 L343.86,164.33 L344.24,164.06 L344.62,163.79 L345.00,163.50 L345.36,163.21 L345.71,162.89 L346.07,162.55 L346.43,162.20 L346.79,161.83 L347.14,161.45 L347.50,161.07 L347.86,160.69 L348.21,160.30 L348.57,159.92 L348.93,159.54 L349.29,159.18 L349.64,158.83 L350.00,158.50 L350.36,158.18 L350.71,157.87 L351.07,157.57 L351.43,157.27 L351.79,156.97 L352.14,156.68 L352.50,156.39 L352.86,156.11 L353.21,155.82 L353.57,155.54 L353.93,155.26 L354.29,154.97 L354.64,154.69 L355.00,154.40 L355.36,154.12 L355.71,153.85 L356.07,153.59 L356.43,153.34 L356.79,153.09 L357.14,152.84 L357.50,152.59 L357.86,152.33 L358.21,152.05 L358.57,151.77 L358.93,151.46 L359.29,151.13 L359.64,150.78 L360.00,150.40 L360.36,149.96 L360.73,149.46 L361.09,148.90 L361.46,148.30 L361.82,147.65 L362.19,146.97 L362.55,146.26 L362.91,145.53 L363.28,144.79 L363.64,144.04 L364.01,143.29 L364.37,142.54 L364.74,141.81 L365.10,141.10 L365.48,140.39 L365.85,139.69 L366.23,138.99 L366.60,138.27 L366.98,137.54 L367.35,136.77 L367.73,135.96 L368.10,135.10 L368.48,134.17 L368.86,133.18 L369.23,132.14 L369.61,131.05 L369.99,129.91 L370.37,128.74 L370.74,127.52 L371.12,126.27 L371.50,125.00 L371.88,123.69 L372.25,122.31 L372.62,120.88 L373.00,119.39 L373.38,117.86 L373.75,116.30 L374.12,114.71 L374.50,113.10 L374.86,111.52 L375.22,109.89 L375.58,108.21 L375.94,106.48 L376.30,104.70 L376.66,102.84 L377.02,100.90 L377.38,98.92 L377.74,96.94 L378.10,95.00 L378.47,93.09 L378.84,91.25 L379.21,89.43 L379.59,87.60 L379.96,85.70 L380.33,83.68 L380.70,81.50 L381.07,79.02 L381.44,76.22 L381.81,73.24 L382.19,70.20 L382.56,67.23 L382.93,64.45 L383.30,62.00 L383.77,59.46 L384.23,57.18 L384.70,54.70 L385.13,51.95 L385.57,48.97 L386.00,46.00 L386.43,43.01 L386.87,40.04 L387.30,37.40 L387.73,34.95 L388.15,32.54 L388.57,30.61 L389.00,29.60 L389.43,29.24 L389.87,28.99 L390.30,28.90 L390.75,29.03 L391.20,29.30 L391.65,29.65 L392.10,30.20 L392.57,31.64 L393.03,33.88 L393.50,36.00 L393.90,37.40 L394.33,39.66 L394.77,42.58 L395.20,46.00 L395.70,51.57 L396.20,57.00 L396.70,59.75 L397.20,63.00 L397.60,71.71 L398.00,81.50 L398.38,86.22 L398.75,90.00 L399.11,93.38 L399.48,96.43 L399.84,99.52 L400.20,103.00 L400.90,111.50 L401.28,115.44 L401.67,119.06 L402.05,122.49 L402.43,125.87 L402.82,129.33 L403.20,133.00 L403.60,137.40 L404.00,142.16 L404.40,146.59 L404.80,150.00 L405.22,152.58 L405.64,154.75 L406.06,156.64 L406.48,158.36 L406.90,160.00 L407.25,161.34 L407.60,162.62 L407.95,163.84 L408.30,164.97 L408.65,166.03 L409.00,167.00 L409.38,168.01 L409.77,168.98 L410.15,169.89 L410.53,170.72 L410.92,171.43 L411.30,172.00 L411.67,172.47 L412.04,172.94 L412.41,173.37 L412.79,173.74 L413.16,174.04 L413.53,174.23 L413.90,174.30 L414.26,174.30 L414.62,174.30 L414.97,174.30 L415.33,174.30 L415.69,174.30 L416.05,174.30 L416.41,174.30 L416.76,174.30 L417.12,174.30 L417.48,174.30 L417.84,174.30 L418.20,174.30 L418.55,174.30 L418.91,174.30 L419.27,174.30 L419.63,174.30 L419.99,174.30 L420.35,174.30 L420.70,174.30 L421.06,174.30 L421.42,174.30 L421.78,174.30 L422.14,174.30 L422.49,174.30 L422.85,174.30 L423.21,174.30 L423.57,174.30 L423.93,174.30 L424.28,174.30 L424.64,174.30 L425.00,174.30" fill="none" stroke="#e8141c" stroke-width="1.15"/>
<path d="M292.70,174.30 L293.05,174.30 L293.40,174.30 L293.75,174.30 L294.10,174.30 L294.45,174.30 L294.80,174.30 L295.16,174.30 L295.51,174.30 L295.86,174.30 L296.21,174.30 L296.56,174.30 L296.91,174.30 L297.26,174.30 L297.61,174.30 L297.96,174.30 L298.31,174.30 L298.66,174.30 L299.01,174.30 L299.36,174.30 L299.72,174.30 L300.07,174.30 L300.42,174.30 L300.77,174.30 L301.12,174.30 L301.47,174.30 L301.82,174.30 L302.17,174.30 L302.52,174.30 L302.87,174.30 L303.22,174.30 L303.57,174.30 L303.92,174.30 L304.28,174.30 L304.63,174.30 L304.98,174.30 L305.33,174.30 L305.68,174.30 L306.03,174.30 L306.38,174.30 L306.73,174.30 L307.08,174.30 L307.43,174.30 L307.78,174.30 L308.13,174.30 L308.48,174.30 L308.84,174.30 L309.19,174.30 L309.54,174.30 L309.89,174.30 L310.24,174.30 L310.59,174.30 L310.94,174.30 L311.29,174.30 L311.64,174.30 L311.99,174.30 L312.34,174.30 L312.69,174.30 L313.04,174.30 L313.40,174.30 L313.75,174.30 L314.10,174.30 L314.45,174.30 L314.80,174.30 L315.15,174.30 L315.50,174.30 L315.85,174.30 L316.20,174.30 L316.55,174.30 L316.90,174.30 L317.25,174.30 L317.60,174.30 L317.96,174.30 L318.31,174.30 L318.66,174.30 L319.01,174.30 L319.36,174.30 L319.71,174.30 L320.06,174.30 L320.41,174.30 L320.76,174.30 L321.11,174.30 L321.46,174.30 L321.81,174.30 L322.16,174.30 L322.52,174.30 L322.87,174.30 L323.22,174.30 L323.57,174.30 L323.92,174.30 L324.27,174.30 L324.62,174.30 L324.97,174.30 L325.32,174.30 L325.67,174.30 L326.02,174.30 L326.37,174.30 L326.72,174.30 L327.08,174.30 L327.43,174.30 L327.78,174.30 L328.13,174.30 L328.48,174.30 L328.83,174.30 L329.18,174.30 L329.53,174.30 L329.88,174.30 L330.23,174.30 L330.58,174.30 L330.93,174.30 L331.28,174.30 L331.64,174.30 L331.99,174.30 L332.34,174.30 L332.69,174.30 L333.04,174.30 L333.39,174.30 L333.74,174.30 L334.09,174.30 L334.44,174.30 L334.79,174.30 L335.14,174.30 L335.49,174.30 L335.84,174.30 L336.20,174.30 L336.55,174.30 L336.90,174.30 L337.25,174.30 L337.60,174.30 L337.95,174.30 L338.30,174.30 L338.66,174.18 L339.02,173.87 L339.39,173.41 L339.75,172.85 L340.11,172.25 L340.48,171.66 L340.84,171.13 L341.20,170.70 L341.58,170.34 L341.96,170.00 L342.34,169.68 L342.72,169.37 L343.10,169.08 L343.48,168.79 L343.86,168.52 L344.24,168.24 L344.62,167.97 L345.00,167.70 L345.36,167.45 L345.72,167.20 L346.08,166.97 L346.45,166.74 L346.81,166.51 L347.17,166.29 L347.53,166.07 L347.89,165.84 L348.25,165.61 L348.62,165.38 L348.98,165.13 L349.34,164.87 L349.70,164.60 L350.05,164.32 L350.41,164.02 L350.76,163.71 L351.11,163.39 L351.47,163.06 L351.82,162.72 L352.17,162.38 L352.53,162.03 L352.88,161.68 L353.23,161.32 L353.59,160.97 L353.94,160.62 L354.29,160.27 L354.65,159.93 L355.00,159.60 L355.36,159.27 L355.71,158.94 L356.07,158.61 L356.43,158.29 L356.79,157.96 L357.14,157.64 L357.50,157.31 L357.86,156.99 L358.21,156.66 L358.57,156.33 L358.93,156.00 L359.29,155.67 L359.64,155.34 L360.00,155.00 L360.36,154.66 L360.73,154.33 L361.09,154.00 L361.46,153.68 L361.82,153.36 L362.19,153.03 L362.55,152.70 L362.91,152.36 L363.28,152.01 L363.64,151.65 L364.01,151.27 L364.37,150.87 L364.74,150.45 L365.10,150.00 L365.46,149.53 L365.81,149.01 L366.17,148.45 L366.53,147.86 L366.89,147.25 L367.24,146.60 L367.60,145.94 L367.96,145.26 L368.31,144.57 L368.67,143.87 L369.03,143.17 L369.39,142.47 L369.74,141.78 L370.10,141.10 L370.45,140.44 L370.80,139.79 L371.15,139.14 L371.50,138.49 L371.85,137.82 L372.20,137.13 L372.55,136.42 L372.90,135.69 L373.25,134.91 L373.60,134.10 L373.99,133.15 L374.38,132.16 L374.76,131.12 L375.15,130.02 L375.54,128.86 L375.93,127.64 L376.31,126.36 L376.70,125.00 L377.07,123.53 L377.44,121.86 L377.81,120.06 L378.19,118.21 L378.56,116.38 L378.93,114.65 L379.30,113.10 L379.66,111.77 L380.01,110.52 L380.37,109.33 L380.73,108.18 L381.09,107.04 L381.44,105.89 L381.80,104.70 L382.15,103.56 L382.50,102.48 L382.85,101.43 L383.20,100.36 L383.55,99.23 L383.90,97.99 L384.25,96.59 L384.60,95.00 L384.96,92.93 L385.32,90.35 L385.68,87.46 L386.04,84.45 L386.40,81.50 L386.77,78.48 L387.13,75.29 L387.50,72.05 L387.87,68.84 L388.23,65.79 L388.60,63.00 L389.03,60.20 L389.47,57.62 L389.90,54.70 L390.40,50.09 L390.90,45.50 L391.30,42.79 L391.70,40.40 L392.10,38.00 L392.47,35.53 L392.83,33.04 L393.20,31.00 L393.57,29.53 L393.93,28.31 L394.30,27.10 L394.75,25.37 L395.20,24.00 L395.57,23.37 L395.93,22.90 L396.30,22.60 L396.70,22.40 L397.10,22.26 L397.50,22.20 L397.90,22.25 L398.30,22.39 L398.70,22.60 L399.15,23.27 L399.60,24.50 L400.10,27.10 L400.80,33.00 L401.30,38.00 L401.80,45.50 L402.50,54.70 L403.20,63.00 L403.55,66.47 L403.90,69.68 L404.25,72.70 L404.60,75.63 L404.95,78.53 L405.30,81.50 L405.80,85.82 L406.30,90.00 L406.73,93.45 L407.15,96.84 L407.57,100.06 L408.00,103.00 L408.38,105.38 L408.75,107.62 L409.12,109.67 L409.50,111.50 L409.88,113.11 L410.27,114.52 L410.65,115.82 L411.03,117.10 L411.42,118.46 L411.80,120.00 L412.16,121.58 L412.51,123.24 L412.87,124.99 L413.23,126.83 L413.59,128.78 L413.94,130.83 L414.30,133.00 L414.67,135.54 L415.03,138.46 L415.40,141.55 L415.77,144.64 L416.13,147.52 L416.50,150.00 L416.90,152.33 L417.30,154.47 L417.70,156.46 L418.10,158.29 L418.50,160.00 L418.90,161.60 L419.30,163.09 L419.70,164.49 L420.10,165.79 L420.50,167.00 L420.90,168.18 L421.30,169.34 L421.70,170.42 L422.10,171.33 L422.50,172.00 L422.87,172.49 L423.24,172.96 L423.61,173.39 L423.99,173.76 L424.36,174.05 L424.73,174.23 L425.10,174.30 L425.45,174.30 L425.80,174.30 L426.15,174.30 L426.50,174.30 L426.85,174.30 L427.20,174.30 L427.55,174.30 L427.90,174.30 L428.25,174.30 L428.60,174.30 L428.95,174.30 L429.31,174.30 L429.66,174.30 L430.01,174.30 L430.36,174.30 L430.71,174.30 L431.06,174.30 L431.41,174.30 L431.76,174.30 L432.11,174.30 L432.46,174.30 L432.81,174.30 L433.16,174.30 L433.51,174.30 L433.86,174.30 L434.21,174.30 L434.56,174.30 L434.91,174.30 L435.26,174.30 L435.61,174.30 L435.96,174.30 L436.31,174.30 L436.66,174.30 L437.02,174.30 L437.37,174.30 L437.72,174.30 L438.07,174.30 L438.42,174.30 L438.77,174.30 L439.12,174.30 L439.47,174.30 L439.82,174.30 L440.17,174.30 L440.52,174.30 L440.87,174.30 L441.22,174.30 L441.57,174.30 L441.92,174.30 L442.27,174.30 L442.62,174.30 L442.97,174.30 L443.32,174.30 L443.67,174.30 L444.02,174.30 L444.37,174.30 L444.73,174.30 L445.08,174.30 L445.43,174.30 L445.78,174.30 L446.13,174.30 L446.48,174.30 L446.83,174.30 L447.18,174.30 L447.53,174.30 L447.88,174.30 L448.23,174.30 L448.58,174.30 L448.93,174.30 L449.28,174.30 L449.63,174.30 L449.98,174.30 L450.33,174.30 L450.68,174.30 L451.03,174.30 L451.38,174.30 L451.73,174.30 L452.08,174.30 L452.44,174.30 L452.79,174.30 L453.14,174.30 L453.49,174.30 L453.84,174.30 L454.19,174.30 L454.54,174.30 L454.89,174.30 L455.24,174.30 L455.59,174.30 L455.94,174.30 L456.29,174.30 L456.64,174.30 L456.99,174.30 L457.34,174.30 L457.69,174.30 L458.04,174.30 L458.39,174.30 L458.74,174.30 L459.09,174.30 L459.44,174.30 L459.79,174.30 L460.15,174.30 L460.50,174.30 L460.85,174.30 L461.20,174.30 L461.55,174.30 L461.90,174.30 L462.25,174.30 L462.60,174.30 L462.95,174.30 L463.30,174.30 L463.65,174.30 L464.00,174.30" fill="none" stroke="#2626d0" stroke-width="1.15"/>
<line x1="358.8" y1="31.1" x2="373.0" y2="31.1" stroke="#333" stroke-width="1.1" stroke-dasharray="1.2,0.9"/>
<line x1="390.5" y1="29.2" x2="404.0" y2="29.2" stroke="#e8141c" stroke-width="1.1" stroke-dasharray="1.2,0.9"/>
<line x1="397.0" y1="22.2" x2="412.0" y2="22.2" stroke="#2626d0" stroke-width="1.1" stroke-dasharray="1.2,0.9"/>
<text x="326.4" y="34.7" font-family="'Liberation Serif', serif" font-size="8.3" font-weight="bold" fill="#222" text-anchor="start" textLength="32.4" lengthAdjust="spacingAndGlyphs" stroke="#222" stroke-width="0.15">1.024 μm</text>
<text x="404.9" y="31.8" font-family="'Liberation Serif', serif" font-size="8.3" font-weight="bold" fill="#e8141c" text-anchor="start" textLength="32.0" lengthAdjust="spacingAndGlyphs" stroke="#e8141c" stroke-width="0.15">2.725 μm</text>
<text x="412.3" y="24.5" font-family="'Liberation Serif', serif" font-size="8.3" font-weight="bold" fill="#2626d0" text-anchor="start" textLength="32.4" lengthAdjust="spacingAndGlyphs" stroke="#2626d0" stroke-width="0.15">3.821 μm</text>
<line x1="447.5" y1="56.8" x2="464.7" y2="56.8" stroke="#444" stroke-width="1.3"/>
<text x="466.3" y="59.9" font-family="'Liberation Serif', serif" font-size="9.4" font-weight="bold" fill="#111" text-anchor="start" textLength="31.2" lengthAdjust="spacingAndGlyphs" stroke="#111" stroke-width="0.15">1500 °C</text>
<line x1="447.5" y1="69.0" x2="464.7" y2="69.0" stroke="#f05a64" stroke-width="1.3"/>
<text x="466.3" y="72.1" font-family="'Liberation Serif', serif" font-size="9.4" font-weight="bold" fill="#111" text-anchor="start" textLength="31.2" lengthAdjust="spacingAndGlyphs" stroke="#111" stroke-width="0.15">1800 °C</text>
<line x1="447.5" y1="80.7" x2="464.7" y2="80.7" stroke="#5c5ce4" stroke-width="1.3"/>
<text x="466.3" y="83.8" font-family="'Liberation Serif', serif" font-size="9.4" font-weight="bold" fill="#111" text-anchor="start" textLength="31.2" lengthAdjust="spacingAndGlyphs" stroke="#111" stroke-width="0.15">2100 °C</text>
<text transform="translate(3.2,224.6) scale(1,1.06)" x="0" y="0" font-family="'Liberation Serif', serif" font-size="12" fill="#000" textLength="532.6" lengthAdjust="spacingAndGlyphs">Fig. 2. XRD patterns of PZC precursor pyrolyzed at different temperatures (a) and size of the obtained ceramic</text>
<text transform="translate(3.3,239.0) scale(1,1.06)" x="0" y="0" font-family="'Liberation Serif', serif" font-size="12" fill="#000" textLength="266.6" lengthAdjust="spacingAndGlyphs">particles as measured by laser particle size analyzer (b).</text>
</svg>

</body></html>
